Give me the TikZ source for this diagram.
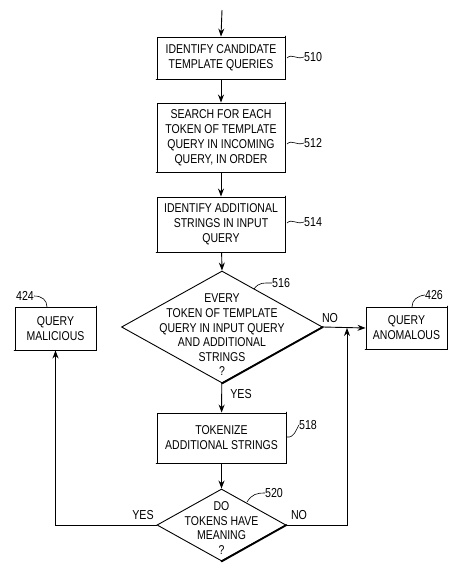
\documentclass[tikz,border=0pt]{standalone}
\usepackage{fontspec}
\setmainfont[FakeStretch=0.82]{Liberation Sans}
\usetikzlibrary{shapes.geometric,arrows.meta}
\begin{document}
\begin{tikzpicture}[x=1pt,y=-1pt,
  box/.style={draw, line width=0.9pt, inner sep=0pt, align=center, font=\fontsize{12.8}{15}\selectfont},
  dia/.style={draw, diamond, line width=0.9pt, inner sep=0pt},
  txt/.style={align=center, font=\fontsize{12.8}{14.6}\selectfont, inner sep=0pt},
  lbl/.style={font=\fontsize{13}{14}\selectfont, inner sep=0pt},
  arr/.style={line width=0.9pt, -{Stealth[length=8pt,width=6pt]}},
  ln/.style={line width=0.9pt},
  heavy/.style={line width=1.8pt, line cap=round},
  lead/.style={line width=0.6pt}]
\useasboundingbox (0,0) rectangle (474,574);

% nodes
\coordinate (start) at (222,10);
\node[box, minimum width=128pt, minimum height=42pt] (b510) at (221,58) {IDENTIFY CANDIDATE\\TEMPLATE QUERIES};
\node[box, minimum width=128pt, minimum height=69pt] (b512) at (221,137.5) {SEARCH FOR EACH\\TOKEN OF TEMPLATE\\QUERY IN INCOMING\\QUERY, IN ORDER};
\node[box, minimum width=128pt, minimum height=55pt] (b514) at (221,224.5) {IDENTIFY ADDITIONAL\\STRINGS IN INPUT\\QUERY};
\node[dia, minimum width=201pt, minimum height=112pt] (d516) at (222,327) {};
\node[txt] (t516) at (222,335) {EVERY\\TOKEN OF TEMPLATE\\QUERY IN INPUT QUERY\\AND ADDITIONAL\\STRINGS\\?};
\node[box, minimum width=81pt, minimum height=43pt] (b424) at (55.5,328.5) {QUERY\\MALICIOUS};
\node[box, minimum width=81pt, minimum height=42pt] (b426) at (406.5,328) {QUERY\\ANOMALOUS};
\node[box, minimum width=129pt, minimum height=50pt] (b518) at (221.5,438) {TOKENIZE\\ADDITIONAL STRINGS};
\node[dia, minimum width=129pt, minimum height=72pt] (d520) at (221.5,525) {};
\node[txt] (t520) at (221.5,528) {DO\\TOKENS HAVE\\MEANING\\?};
\coordinate (j) at (347,328);

% heavy (shadow) edges
\foreach \b in {b510,b512,b514,b518,b424,b426}
  \draw[heavy] (\b.north east) -- (\b.south east) -- (\b.south west);
\draw[heavy] (d516.east) -- (d516.south);
\draw[heavy] (d520.east) -- (d520.south);

% connectors
\draw[arr] (start) -- (b510.north);
\draw[arr] (b510) -- (b512);
\draw[arr] (b512) -- (b514);
\draw[arr] (b514) -- (d516.north);
\draw[arr] (d516) -- (b518);
\draw[arr] (b518) -- (d520);
\draw[arr] (d516.east) -- (b426.west);
\draw[arr] (d520.west) -| (b424.south);
\draw[arr] (d520.east) -| (j);

% branch labels
\node[lbl] (no1) at (330,318) {NO};
\node[lbl] (yes1) at (241,394) {YES};
\node[lbl] (yes2) at (143,515) {YES};
\node[lbl] (no2) at (299,515) {NO};

% reference numerals
\node[lbl, anchor=west] (n510) at (304,57) {510};
\node[lbl, anchor=west] (n512) at (304,143) {512};
\node[lbl, anchor=west] (n514) at (304,222) {514};
\node[lbl, anchor=west] (n516) at (272,283) {516};
\node[lbl] (n424) at (25,296) {424};
\node[lbl] (n426) at (434,295) {426};
\node[lbl] (n518) at (308,425) {518};
\node[lbl] (n520) at (274,493) {520};

\draw[lead] (287,58) .. controls (292,53) and (296,60) .. (n510.west);
\draw[lead] (287,144) .. controls (292,139) and (296,146) .. (n512.west);
\draw[lead] (287,223) .. controls (292,218) and (296,225) .. (n514.west);
\draw[lead] (254,289) .. controls (259,282) and (264,283) .. (n516.west);
\draw[lead] (47,307) .. controls (47,300) and (42,296) .. (n424.east);
\draw[lead] (412,307) .. controls (412,300) and (417,296) .. (n426.west);
\draw[lead] (287,437) .. controls (294,438) and (296,430) .. (n518.west);
\draw[lead] (247,502) .. controls (252,494) and (257,493) .. (n520.west);
\end{tikzpicture}
\end{document}
